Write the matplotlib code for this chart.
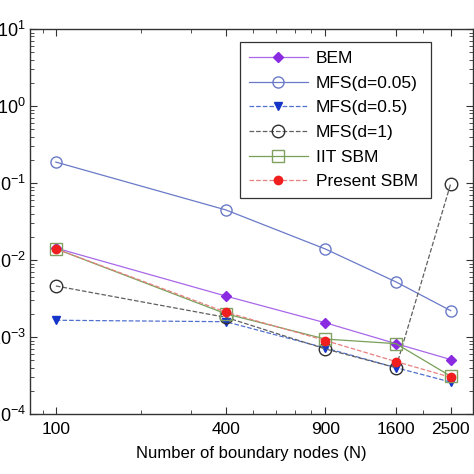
import matplotlib
matplotlib.use('Agg')
import matplotlib.pyplot as plt
from matplotlib.ticker import LogLocator, NullFormatter, FixedLocator, FixedFormatter

plt.rcParams['font.family'] = ['Liberation Sans', 'DejaVu Sans']
plt.rcParams['mathtext.fontset'] = 'custom'
plt.rcParams['mathtext.rm'] = 'Liberation Sans'
plt.rcParams['mathtext.it'] = 'Liberation Sans:italic'

# boundary node counts
nodes = [100, 400, 900, 1600, 2500]
node_labels = ['100', '400', '900', '1600', '2500']

# errors
bem = [0.0143, 0.0034, 0.00153, 0.00082, 0.00051]
mfs_005 = [0.187, 0.0447, 0.0139, 0.0052, 0.0022]
mfs_05 = [0.00165, 0.00158, 0.00072, 0.00040, 0.00026]
mfs_1 = [0.0046, 0.0018, 0.00070, 0.00040, 0.097]
iit_sbm = [0.0140, 0.0020, 0.00094, 0.00082, 0.00031]
present_sbm = [0.0140, 0.0021, 0.00090, 0.00048, 0.00030]

fig = plt.figure(figsize=(4.74, 4.74), dpi=100)
W = H = 474.0
ax = fig.add_axes([30 / W, (H - 414) / H, (473 - 30) / W, (414 - 29) / H])

ax.plot(nodes, bem, '-', color='#a868e8', lw=0.9, marker='D', ms=5,
        mfc='#8a2be2', mec='#8a2be2', label='BEM')
ax.plot(nodes, mfs_005, '-', color='#6a7ac8', lw=0.9, marker='o', ms=8,
        mfc='none', mec='#6a7ac8', label='MFS(d=0.05)')
ax.plot(nodes, mfs_05, '--', color='#5070d0', lw=0.9, marker='v', ms=6,
        mfc='#1535c8', mec='#1535c8', label='MFS(d=0.5)')
ax.plot(nodes, mfs_1, '--', color='#606060', lw=0.9, marker='o', ms=9,
        mfc='none', mec='#303030', label='MFS(d=1)')
ax.plot(nodes, iit_sbm, '-', color='#78a058', lw=0.9, marker='s', ms=9,
        mfc='none', mec='#80a060', label='IIT SBM')
ax.plot(nodes, present_sbm, '--', color='#e88080', lw=0.9, marker='o', ms=6,
        mfc='#f01e1e', mec='#f01e1e', label='Present SBM')

ax.set_xscale('log')
ax.set_yscale('log')
ax.set_xlim(81, 3000)
ax.set_ylim(1e-4, 1e1)

ax.xaxis.set_major_locator(FixedLocator(nodes))
ax.xaxis.set_major_formatter(FixedFormatter(node_labels))
ax.xaxis.set_minor_locator(LogLocator(base=10, subs=range(2, 10), numticks=20))
ax.xaxis.set_minor_formatter(NullFormatter())
ax.yaxis.set_major_locator(LogLocator(base=10, numticks=10))
ax.yaxis.set_minor_locator(LogLocator(base=10, subs=range(2, 10), numticks=20))
ax.yaxis.set_minor_formatter(NullFormatter())

ax.tick_params(which='both', direction='in', top=True, right=True,
               labelsize=12.5, color='#333333')
ax.tick_params(which='major', length=5, width=0.8)
ax.tick_params(axis='x', which='major', pad=6)
ax.tick_params(axis='y', which='major', pad=3, labelsize=13)
ax.tick_params(which='minor', length=3, width=0.6)
for s in ax.spines.values():
    s.set_color('#333333')
    s.set_linewidth(1.0)

ax.set_xlabel('Number of boundary nodes (N)', fontsize=12, labelpad=6)

leg = ax.legend(loc='upper left', bbox_to_anchor=(0.474, 0.5, 0.431, 0.466),
                mode='expand', borderaxespad=0,
                fontsize=12.5, numpoints=1, handlelength=3.4, fancybox=False,
                framealpha=1, edgecolor='#333333', labelspacing=0.55,
                handletextpad=0.45, borderpad=0.5)
leg.get_frame().set_linewidth(0.9)

fig.savefig('out.png', dpi=100, facecolor='w')
